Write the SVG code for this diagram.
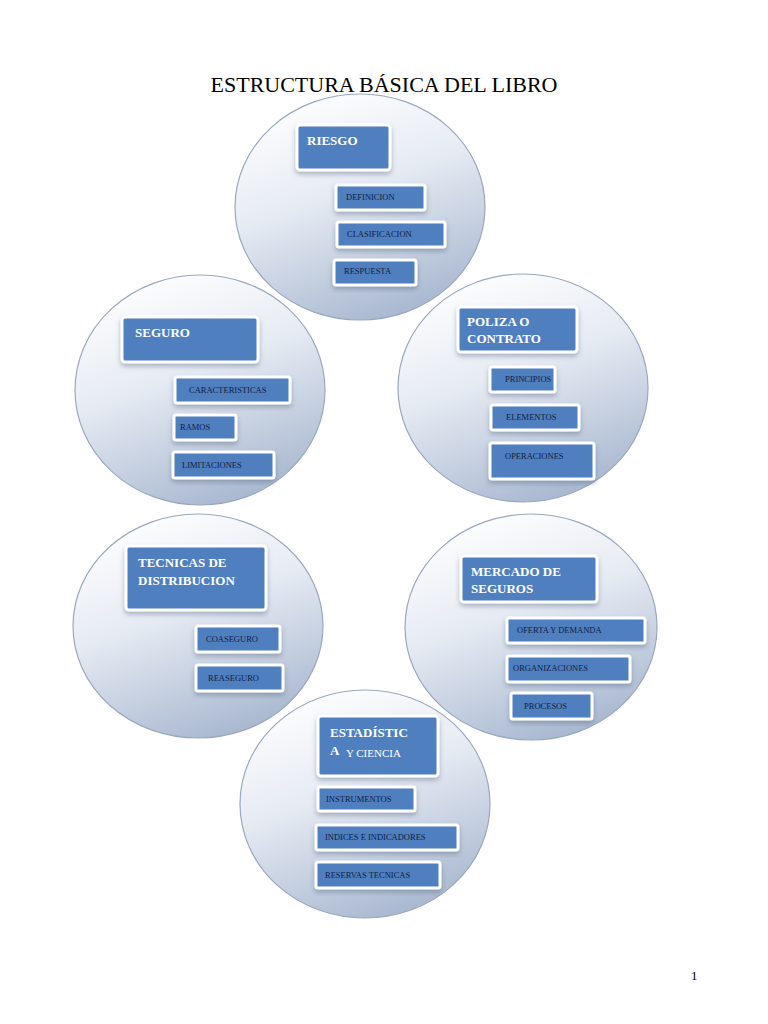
<svg xmlns="http://www.w3.org/2000/svg" width="768" height="1024" viewBox="0 0 768 1024">
<defs>
<linearGradient id="cg" x1="0.2" y1="0" x2="0.6" y2="1">
<stop offset="0" stop-color="#ffffff"/><stop offset="0.45" stop-color="#e6ebf3"/><stop offset="1" stop-color="#a9b8d0"/>
</linearGradient>
<filter id="sh" x="-20%" y="-20%" width="140%" height="150%"><feDropShadow dx="0" dy="3" stdDeviation="2.5" flood-color="#5a6a85" flood-opacity="0.45"/></filter>
</defs>
<style>
.c{fill:url(#cg);stroke:#9aa8bf;stroke-width:1.2}
.m{fill:#4f7fbf;stroke:#ffffff;stroke-width:3;filter:url(#sh)}
.s{fill:#4f7fbf;stroke:#ffffff;stroke-width:3;filter:url(#sh)}
.mt{font-family:"Liberation Serif",serif;font-weight:bold;font-size:13px;fill:#ffffff}
.st{font-family:"Liberation Serif",serif;font-size:8.5px;fill:#0f2045}
</style>
<rect width="768" height="1024" fill="#ffffff"/>
<text x="384" y="92" text-anchor="middle" font-family="Liberation Serif,serif" font-size="22" fill="#000">ESTRUCTURA BÁSICA DEL LIBRO</text>
<text x="691" y="980" font-family="Liberation Serif,serif" font-size="13" fill="#000">1</text>
<g id="connectors"/>
<g id="riesgo">
<ellipse class="c" cx="360" cy="207" rx="125" ry="113"/>
<rect class="m" x="297" y="125" width="93" height="45" rx="3"/><text class="mt" x="307" y="145">RIESGO</text>
<rect class="s" x="336" y="185" width="89" height="25" rx="2"/><text class="st" x="346" y="200">DEFINICION</text>
<rect class="s" x="337" y="222" width="108" height="25" rx="2"/><text class="st" x="347" y="237">CLASIFICACION</text>
<rect class="s" x="334" y="260" width="82" height="25" rx="2"/><text class="st" x="344" y="274">RESPUESTA</text>
</g>
<g id="seguro">
<ellipse class="c" cx="200" cy="390" rx="125" ry="115"/>
<rect class="m" x="122" y="317" width="136" height="45" rx="3"/><text class="mt" x="135" y="337">SEGURO</text>
<rect class="s" x="175" y="377" width="115" height="26" rx="2"/><text class="st" x="189" y="393">CARACTERISTICAS</text>
<rect class="s" x="174" y="415" width="62" height="25" rx="2"/><text class="st" x="180" y="430">RAMOS</text>
<rect class="s" x="173" y="452" width="101" height="26" rx="2"/><text class="st" x="182" y="468">LIMITACIONES</text>
</g>
<g id="poliza">
<ellipse class="c" cx="523" cy="388" rx="125" ry="114"/>
<rect class="m" x="458" y="307" width="119" height="45" rx="3"/><text class="mt" x="467" y="326">POLIZA O</text><text class="mt" x="467" y="343">CONTRATO</text>
<rect class="s" x="490" y="367" width="65" height="25" rx="2"/><text class="st" x="505" y="382">PRINCIPIOS</text>
<rect class="s" x="491" y="405" width="88" height="25" rx="2"/><text class="st" x="506" y="420">ELEMENTOS</text>
<rect class="s" x="490" y="443" width="104" height="36" rx="2"/><text class="st" x="505" y="459">OPERACIONES</text>
</g>
<g id="tecnicas">
<ellipse class="c" cx="198" cy="626" rx="125" ry="112"/>
<rect class="m" x="126" y="546" width="140" height="64" rx="3"/><text class="mt" x="138" y="567">TECNICAS DE</text><text class="mt" x="138" y="585">DISTRIBUCION</text>
<rect class="s" x="196" y="626" width="84" height="26" rx="2"/><text class="st" x="206" y="642">COASEGURO</text>
<rect class="s" x="196" y="665" width="87" height="26" rx="2"/><text class="st" x="208" y="681">REASEGURO</text>
</g>
<g id="mercado">
<ellipse class="c" cx="531" cy="627" rx="126" ry="113"/>
<rect class="m" x="461" y="556" width="136" height="46" rx="3"/><text class="mt" x="471" y="576">MERCADO DE</text><text class="mt" x="471" y="593">SEGUROS</text>
<rect class="s" x="507" y="618" width="138" height="25" rx="2"/><text class="st" x="517" y="633">OFERTA Y DEMANDA</text>
<rect class="s" x="507" y="656" width="123" height="26" rx="2"/><text class="st" x="513" y="671">ORGANIZACIONES</text>
<rect class="s" x="511" y="693" width="81" height="26" rx="2"/><text class="st" x="524" y="709">PROCESOS</text>
</g>
<g id="estadistica">
<ellipse class="c" cx="365" cy="804" rx="125" ry="114"/>
<rect class="m" x="318" y="716" width="120" height="60" rx="3"/><text class="mt" x="330" y="737">ESTADÍSTIC</text><text class="mt" x="330" y="755">A</text><text x="346" y="757" font-family="Liberation Serif,serif" font-size="11" fill="#fff">Y CIENCIA</text>
<rect class="s" x="318" y="787" width="97" height="24" rx="2"/><text class="st" x="326" y="802">INSTRUMENTOS</text>
<rect class="s" x="316" y="825" width="142" height="25" rx="2"/><text class="st" x="325" y="840">INDICES E INDICADORES</text>
<rect class="s" x="316" y="862" width="124" height="26" rx="2"/><text class="st" x="325" y="878">RESERVAS TECNICAS</text>
</g>
</svg>
